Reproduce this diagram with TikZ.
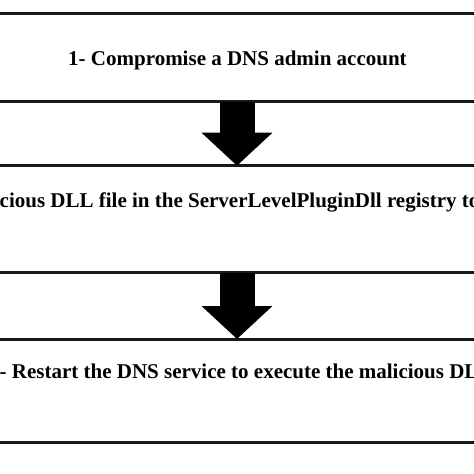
\documentclass[tikz,border=0pt]{standalone}
\usepackage{fontspec}
\setmainfont{Liberation Serif}
\usetikzlibrary{arrows.meta}

\begin{document}
\begin{tikzpicture}[x=1pt, y=-1pt,
  stepbox/.style={rectangle, draw=black!90, line width=3pt, outer sep=0pt, minimum width=540pt},
  steptext/.style={font=\fontsize{21}{25}\selectfont\bfseries, inner sep=0pt},
  bigarrow/.style={line width=35pt, -{Triangle[length=33pt, width=69pt]}}]
\useasboundingbox (0,0) rectangle (474,474);
\clip (0,0) rectangle (474,474);
% Define the nodes
\node[stepbox, minimum height=88.4pt] at (237,57.5) (s1) {};
\node[stepbox, minimum height=107pt] at (237,219.2) (s2) {};
\node[stepbox, minimum height=103pt] at (237,390.5) (s3) {};
\node[steptext, anchor=base] at (237.5,65) (t1) {1- Compromise a DNS admin account};
\node[steptext, anchor=base west] at (-0.5,207.3) (t2) {cious DLL file in the ServerLevelPluginDll registry to};
\node[steptext, anchor=base west] at (-0.5,378.3) (t3) {- Restart the DNS service to execute the malicious DLL};
% Draw the arrows
\draw[bigarrow] (s1.south) -- (s2.north);
\draw[bigarrow] (s2.south) -- (s3.north);
\end{tikzpicture}
\end{document}
